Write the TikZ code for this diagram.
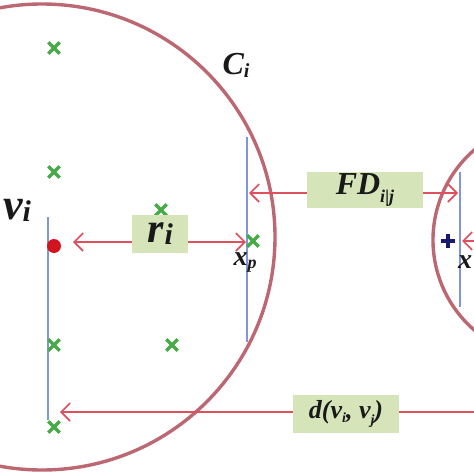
\documentclass[tikz,border=0pt]{standalone}
\usepackage{fontspec}
\setmainfont{Liberation Serif}
\usetikzlibrary{arrows.meta,shapes.misc}
\definecolor{circ}{RGB}{188,104,114}
\definecolor{arr}{RGB}{222,80,92}
\definecolor{bl}{RGB}{128,150,220}
\definecolor{gr}{RGB}{70,170,70}
\definecolor{boxf}{RGB}{214,228,186}
\definecolor{dotr}{RGB}{210,20,30}
\definecolor{navy}{RGB}{25,25,110}
\definecolor{txt}{RGB}{25,25,25}
\newcommand{\sz}[1]{\fontsize{#1}{#1}\selectfont}
\begin{document}
\begin{tikzpicture}[x=1pt,y=-1pt,
  ring/.style={draw=circ,line width=3.4pt},
  bline/.style={draw=bl,line width=1.5pt},
  barb/.tip={Straight Barb[length=9pt,width=18pt,line width=1.6pt]},
  darr/.style={draw=arr,line width=2pt},
  lbox/.style={fill=boxf,inner sep=0pt,text=txt,font=\bfseries\itshape},
  lbl/.style={inner sep=0pt,text=txt,font=\bfseries\itshape},
  xmark/.style={draw=gr,cross out,line width=3.4pt,minimum size=8pt,inner sep=0pt},
]
\useasboundingbox (0,0) rectangle (474,474);
% circles
\draw[ring] (42,237) circle[radius=233pt];
\draw[ring] (552,240) circle[radius=119pt];
% blue lines
\coordinate (b1t) at (48,217); \coordinate (b1b) at (48,420);
\coordinate (b2t) at (247,137); \coordinate (b2b) at (247,342);
\coordinate (b3t) at (460,172); \coordinate (b3b) at (460,307);
\draw[bline] (b1t) -- (b1b);
\draw[bline] (b2t) -- (b2b);
\draw[bline] (b3t) -- (b3b);
% crosses
\node[xmark] (g1) at (54,48) {};
\node[xmark] (g2) at (54,172) {};
\node[xmark] (g3) at (161,210) {};
\node[xmark] (g4) at (54,345) {};
\node[xmark] (g5) at (172,345) {};
\node[xmark] (g6) at (54,427) {};
\node[xmark] (xp) at (253,241) {};
% center dot
\node[circle,fill=dotr,minimum size=14pt,inner sep=0pt] (vi) at (54,246) {};
% plus
\node[inner sep=0pt,minimum size=13pt] (xq) at (448,241) {};
\draw[navy,line width=3.4pt] (xq.west) -- (xq.east) (xq.north) -- (xq.south);
% arrows
\coordinate (ra) at (73,242); \coordinate (rb) at (246,242);
\coordinate (fa) at (249,193); \coordinate (fb) at (458,193);
\coordinate (da) at (60,412); \coordinate (db) at (480,412);
\coordinate (qa) at (462,241); \coordinate (qb) at (480,241);
\draw[darr,barb-barb] (ra) -- (rb);
\draw[darr,barb-barb] (fa) -- (fb);
\draw[darr,barb-] (da) -- (db);
\draw[darr,barb-] (qa) -- (qb);
% label boxes
\node[lbox,minimum width=56pt,minimum height=38pt] (rlab) at (160,234) {\sz{42}r\kern1pt\raisebox{-2pt}{\sz{30}i}};
\node[lbox,minimum width=116pt,minimum height=36pt] (flab) at (365,190) {\sz{32}FD\raisebox{-8pt}{\sz{18}i|j}};
\node[lbox,minimum width=106pt,minimum height=38pt] (dlab) at (346,414) {\sz{26}d(v\raisebox{-4pt}{\sz{14}i}, v\raisebox{-6pt}{\sz{14}j})};
% text labels
\node[lbl] (vl) at (17,210) {\sz{44}v\raisebox{-2pt}{\sz{30}i}};
\node[lbl] (cl) at (236,65) {\sz{32}C\raisebox{-3pt}{\sz{20}i}};
\node[lbl] (xpl) at (245,262) {\sz{28}x\raisebox{-3pt}{\sz{18}p}};
\node[lbl,anchor=west] (xql) at (458,262) {\sz{28}x};
\end{tikzpicture}
\end{document}
